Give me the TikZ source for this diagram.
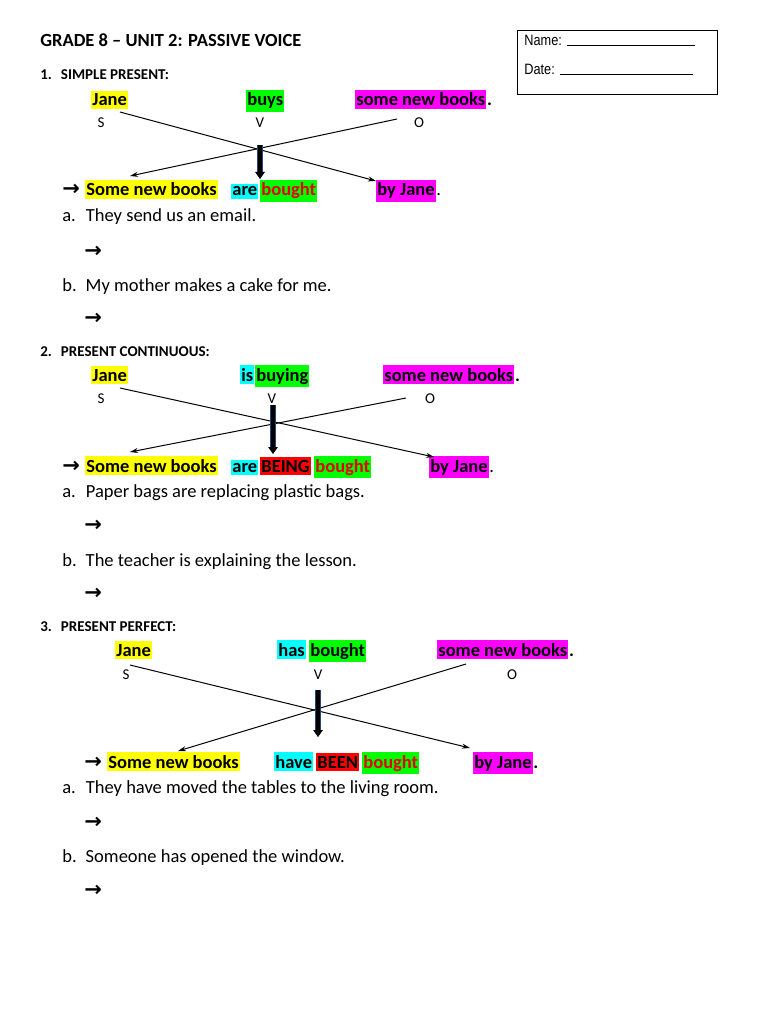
\documentclass[tikz,border=0pt]{standalone}
\usepackage{fontspec}
\setmainfont{Carlito}
\newfontfamily\arrowfont{DejaVu Sans}
\newfontfamily\boxfont{Liberation Sans}[FakeStretch=0.85]
\usetikzlibrary{arrows.meta}
\definecolor{hlyellow}{RGB}{255,255,0}
\definecolor{hlgreen}{RGB}{0,255,0}
\definecolor{hlpink}{RGB}{255,0,255}
\definecolor{hlcyan}{RGB}{0,255,255}
\definecolor{hlred}{RGB}{255,0,0}
\definecolor{txtred}{RGB}{230,0,0}
\definecolor{vblue}{RGB}{40,70,120}
\tikzset{every picture/.style={line width=0.75pt}}
\tikzset{
  txt/.style={anchor=base west,inner sep=0pt,font=\fontsize{18.5}{22}\selectfont},
  hl/.style={txt,inner xsep=1pt,inner ysep=3pt,fill=#1},
  bhl/.style={hl=#1,font=\fontsize{18.5}{22}\selectfont\bfseries},
  head/.style={anchor=base west,inner sep=0pt,font=\fontsize{15}{17}\selectfont\bfseries},
  lbl/.style={anchor=base,inner sep=0pt,font=\fontsize{15}{17}\selectfont},
  cross/.style={-{Stealth[length=8pt,width=5pt]},line width=1pt},
  vshaft/.style={-{Triangle[length=7pt,width=9pt]},line width=4pt,draw=black,preaction={draw=vblue,line width=5.5pt}},
}
\newcommand{\ar}{{\arrowfont\bfseries\fontsize{21}{22}\selectfont →}}
\begin{document}
\begin{tikzpicture}[x=1pt,y=1pt,yscale=-1,xscale=1]
	\useasboundingbox (0,0) rectangle (768,1024);
	\fill[white] (0,0) rectangle (768,1024);

	% Title and name box
	\node (title) [anchor=base west,inner sep=0pt,font=\fontsize{18.5}{22}\selectfont\bfseries] at (40,47) {GRADE 8 – UNIT 2: PASSIVE VOICE};
	\draw (517,30) rectangle (717,94);
	\node (name) [anchor=base west,inner sep=0pt,font=\boxfont\fontsize{15}{17}\selectfont] at (524,46) {Name: \rule{128pt}{0.6pt}};
	\node (date) [anchor=base west,inner sep=0pt,font=\boxfont\fontsize{15}{17}\selectfont] at (524,75) {Date: \rule{133pt}{0.6pt}};

	% 1. Simple present
	\node (h1) [head] at (40,80) {1.\hspace{9pt}SIMPLE PRESENT:};
	\node (s1) [bhl=hlyellow] at (91,106) {Jane};
	\node (v1) [bhl=hlgreen] at (246,106) {buys};
	\node (o1) [bhl=hlpink] at (355,106) {some new books};
	\node [txt,font=\fontsize{18.5}{22}\selectfont\bfseries] at (o1.base east) {.};
	\node (S1) [lbl] at (101,128) {S};
	\node (V1) [lbl] at (260,128) {V};
	\node (O1) [lbl] at (419,128) {O};
	\node (r1) [txt] at (62,196) {\ar};
	\node (ps1) [bhl=hlyellow] at (85,196) {Some new books};
	\node (pa1) [bhl=hlcyan] at (231,196) {are};
	\node (pv1) [bhl=hlgreen,text=txtred] at (260,196) {bought};
	\node (pb1) [bhl=hlpink] at (376,196) {by Jane};
	\node [txt] at (pb1.base east) {.};
	\coordinate (sa1) at (120,112); \coordinate (se1) at (376,181);
	\coordinate (oa1) at (397,119); \coordinate (oe1) at (130,176);
	\draw[cross] (sa1) -- (se1);
	\draw[cross] (oa1) -- (oe1);
	\draw[vshaft] (260,145) -- (260,179);
	\node (a1) [txt] at (62,222) {a.\hspace{10pt}They send us an email.};
	\node (a1r) [txt] at (84,258) {\ar};
	\node (b1) [txt] at (62,291) {b.\hspace{9pt}My mother makes a cake for me.};
	\node (b1r) [txt] at (84,324) {\ar};

	% 2. Present continuous
	\node (h2) [head] at (40,356) {2.\hspace{9pt}PRESENT CONTINUOUS:};
	\node (s2) [bhl=hlyellow] at (91,381) {Jane};
	\node (x2) [bhl=hlcyan] at (240,381) {is};
	\node (v2) [bhl=hlgreen] at (255,381) {buying};
	\node (o2) [bhl=hlpink] at (383,381) {some new books};
	\node [txt,font=\fontsize{18.5}{22}\selectfont\bfseries] at (o2.base east) {.};
	\node (S2) [lbl] at (101,403) {S};
	\node (V2) [lbl] at (272,403) {V};
	\node (O2) [lbl] at (430,403) {O};
	\node (r2) [txt] at (62,472) {\ar};
	\node (ps2) [bhl=hlyellow] at (85,472) {Some new books};
	\node (pa2) [bhl=hlcyan] at (231,472) {are};
	\node (pg2) [bhl=hlred] at (260,472) {BEING};
	\node (pv2) [bhl=hlgreen,text=txtred] at (314,472) {bought};
	\node (pb2) [bhl=hlpink] at (429,472) {by Jane};
	\node [txt] at (pb2.base east) {.};
	\coordinate (sa2) at (120,388); \coordinate (se2) at (434,457);
	\coordinate (oa2) at (406,398); \coordinate (oe2) at (130,452);
	\draw[cross] (sa2) -- (se2);
	\draw[cross] (oa2) -- (oe2);
	\draw[vshaft] (273,405) -- (273,454);
	\node (a2) [txt] at (62,497) {a.\hspace{10pt}Paper bags are replacing plastic bags.};
	\node (a2r) [txt] at (84,531) {\ar};
	\node (b2) [txt] at (62,566) {b.\hspace{9pt}The teacher is explaining the lesson.};
	\node (b2r) [txt] at (84,599) {\ar};

	% 3. Present perfect
	\node (h3) [head] at (40,631) {3.\hspace{9pt}PRESENT PERFECT:};
	\node (s3) [bhl=hlyellow] at (115,656) {Jane};
	\node (x3) [bhl=hlcyan] at (277,656) {has};
	\node (v3) [bhl=hlgreen] at (309,656) {bought};
	\node (o3) [bhl=hlpink] at (437,656) {some new books};
	\node [txt,font=\fontsize{18.5}{22}\selectfont\bfseries] at (o3.base east) {.};
	\node (S3) [lbl] at (126,679) {S};
	\node (V3) [lbl] at (318,679) {V};
	\node (O3) [lbl] at (512,679) {O};
	\node (r3) [txt] at (84,768) {\ar};
	\node (ps3) [bhl=hlyellow] at (107,768) {Some new books};
	\node (pa3) [bhl=hlcyan] at (274,768) {have};
	\node (pg3) [bhl=hlred] at (316,768) {BEEN};
	\node (pv3) [bhl=hlgreen,text=txtred] at (362,768) {bought};
	\node (pb3) [bhl=hlpink] at (473,768) {by Jane};
	\node [txt,font=\fontsize{18.5}{22}\selectfont\bfseries] at (pb3.base east) {.};
	\coordinate (sa3) at (130,665); \coordinate (se3) at (470,748);
	\coordinate (oa3) at (466,664); \coordinate (oe3) at (178,751);
	\draw[cross] (sa3) -- (se3);
	\draw[cross] (oa3) -- (oe3);
	\draw[vshaft] (318,690) -- (318,737);
	\node (a3) [txt] at (62,793) {a.\hspace{10pt}They have moved the tables to the living room.};
	\node (a3r) [txt] at (84,828) {\ar};
	\node (b3) [txt] at (62,862) {b.\hspace{9pt}Someone has opened the window.};
	\node (b3r) [txt] at (84,896) {\ar};
\end{tikzpicture}
\end{document}
